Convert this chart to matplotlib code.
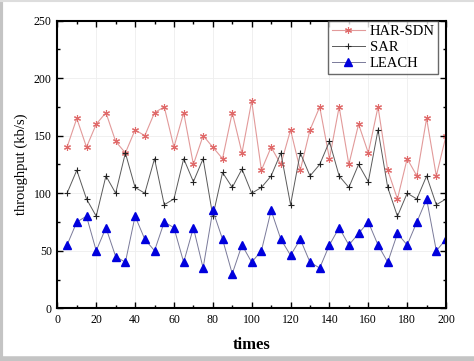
import matplotlib
matplotlib.use("Agg")
import matplotlib.pyplot as plt
from matplotlib.lines import Line2D
from matplotlib.ticker import MultipleLocator

times = list(range(5, 205, 5))
har_sdn = [140, 165, 140, 160, 170, 145, 135, 155, 150, 170,
           175, 140, 170, 125, 150, 140, 130, 170, 135, 180,
           120, 140, 125, 155, 120, 155, 175, 130, 175, 125,
           160, 135, 175, 120, 95, 130, 115, 165, 115, 150]
sar = [100, 120, 95, 80, 115, 100, 135, 105, 100, 130,
       90, 95, 130, 110, 130, 80, 118, 105, 121, 100,
       105, 115, 135, 90, 135, 115, 125, 145, 115, 105,
       125, 110, 155, 105, 80, 100, 95, 115, 90, 95]
leach = [55, 75, 80, 50, 70, 45, 40, 80, 60, 50,
         75, 70, 40, 70, 35, 85, 60, 30, 55, 40,
         50, 85, 60, 46, 60, 40, 35, 55, 70, 55,
         65, 75, 55, 40, 65, 55, 75, 95, 50, 60]

plt.rcParams['font.family'] = ['Liberation Serif', 'DejaVu Serif']

fig = plt.figure(figsize=(4.74, 3.61), dpi=100)
fig.patch.set_facecolor('white')
ax = fig.add_axes([0.121, 0.146, 0.820, 0.797])

ax.plot(times, har_sdn, color='#e29a9a', lw=0.8, marker=(6, 2, 0), ms=5,
        mec='#e06a6a', mew=0.8, label='HAR-SDN')
ax.plot(times, sar, color='#5a5a5a', lw=0.7, marker='+', ms=4.5,
        mec='#222222', mew=0.8, label='SAR')
ax.plot(times, leach, color='#7a7a9a', lw=0.7, marker='^', ms=5.5,
        mfc='#0000dd', mec='#0000dd', label='LEACH')

ax.set_xlim(0, 200)
ax.set_ylim(0, 250)
ax.xaxis.set_major_locator(MultipleLocator(20))
ax.xaxis.set_minor_locator(MultipleLocator(10))
ax.yaxis.set_major_locator(MultipleLocator(50))
ax.yaxis.set_minor_locator(MultipleLocator(25))
ax.tick_params(which='both', direction='in', top=True, right=True,
               labelsize=8.5, width=1.0, pad=4)
ax.tick_params(which='major', length=4)
ax.tick_params(which='minor', length=2.5)
for s in ax.spines.values():
    s.set_linewidth(1.5)
ax.grid(True, which='major', color='#eeeeee', lw=0.6)
ax.set_axisbelow(True)

ax.set_xlabel('times', fontsize=12, fontweight='bold', labelpad=8)
ax.set_ylabel('throughput (kb/s)', fontsize=10.5, labelpad=4)

leg = ax.legend(loc='upper right', bbox_to_anchor=(0.98, 0.997), fontsize=10.5,
                frameon=True, fancybox=False, edgecolor='#444444',
                borderpad=0.25, labelspacing=0.18, handlelength=2.3,
                handletextpad=0.3, borderaxespad=0.0)
leg.get_frame().set_linewidth(1.0)

fig.add_artist(Line2D([0.003, 0.003], [0, 1], transform=fig.transFigure,
                      color='#c4c4c4', lw=3))
fig.add_artist(Line2D([0, 1], [0.006, 0.006], transform=fig.transFigure,
                      color='#c4c4c4', lw=4))
fig.add_artist(Line2D([0, 1], [0.998, 0.998], transform=fig.transFigure,
                      color='#dddddd', lw=1.5))

fig.savefig('out.png', dpi=100)
